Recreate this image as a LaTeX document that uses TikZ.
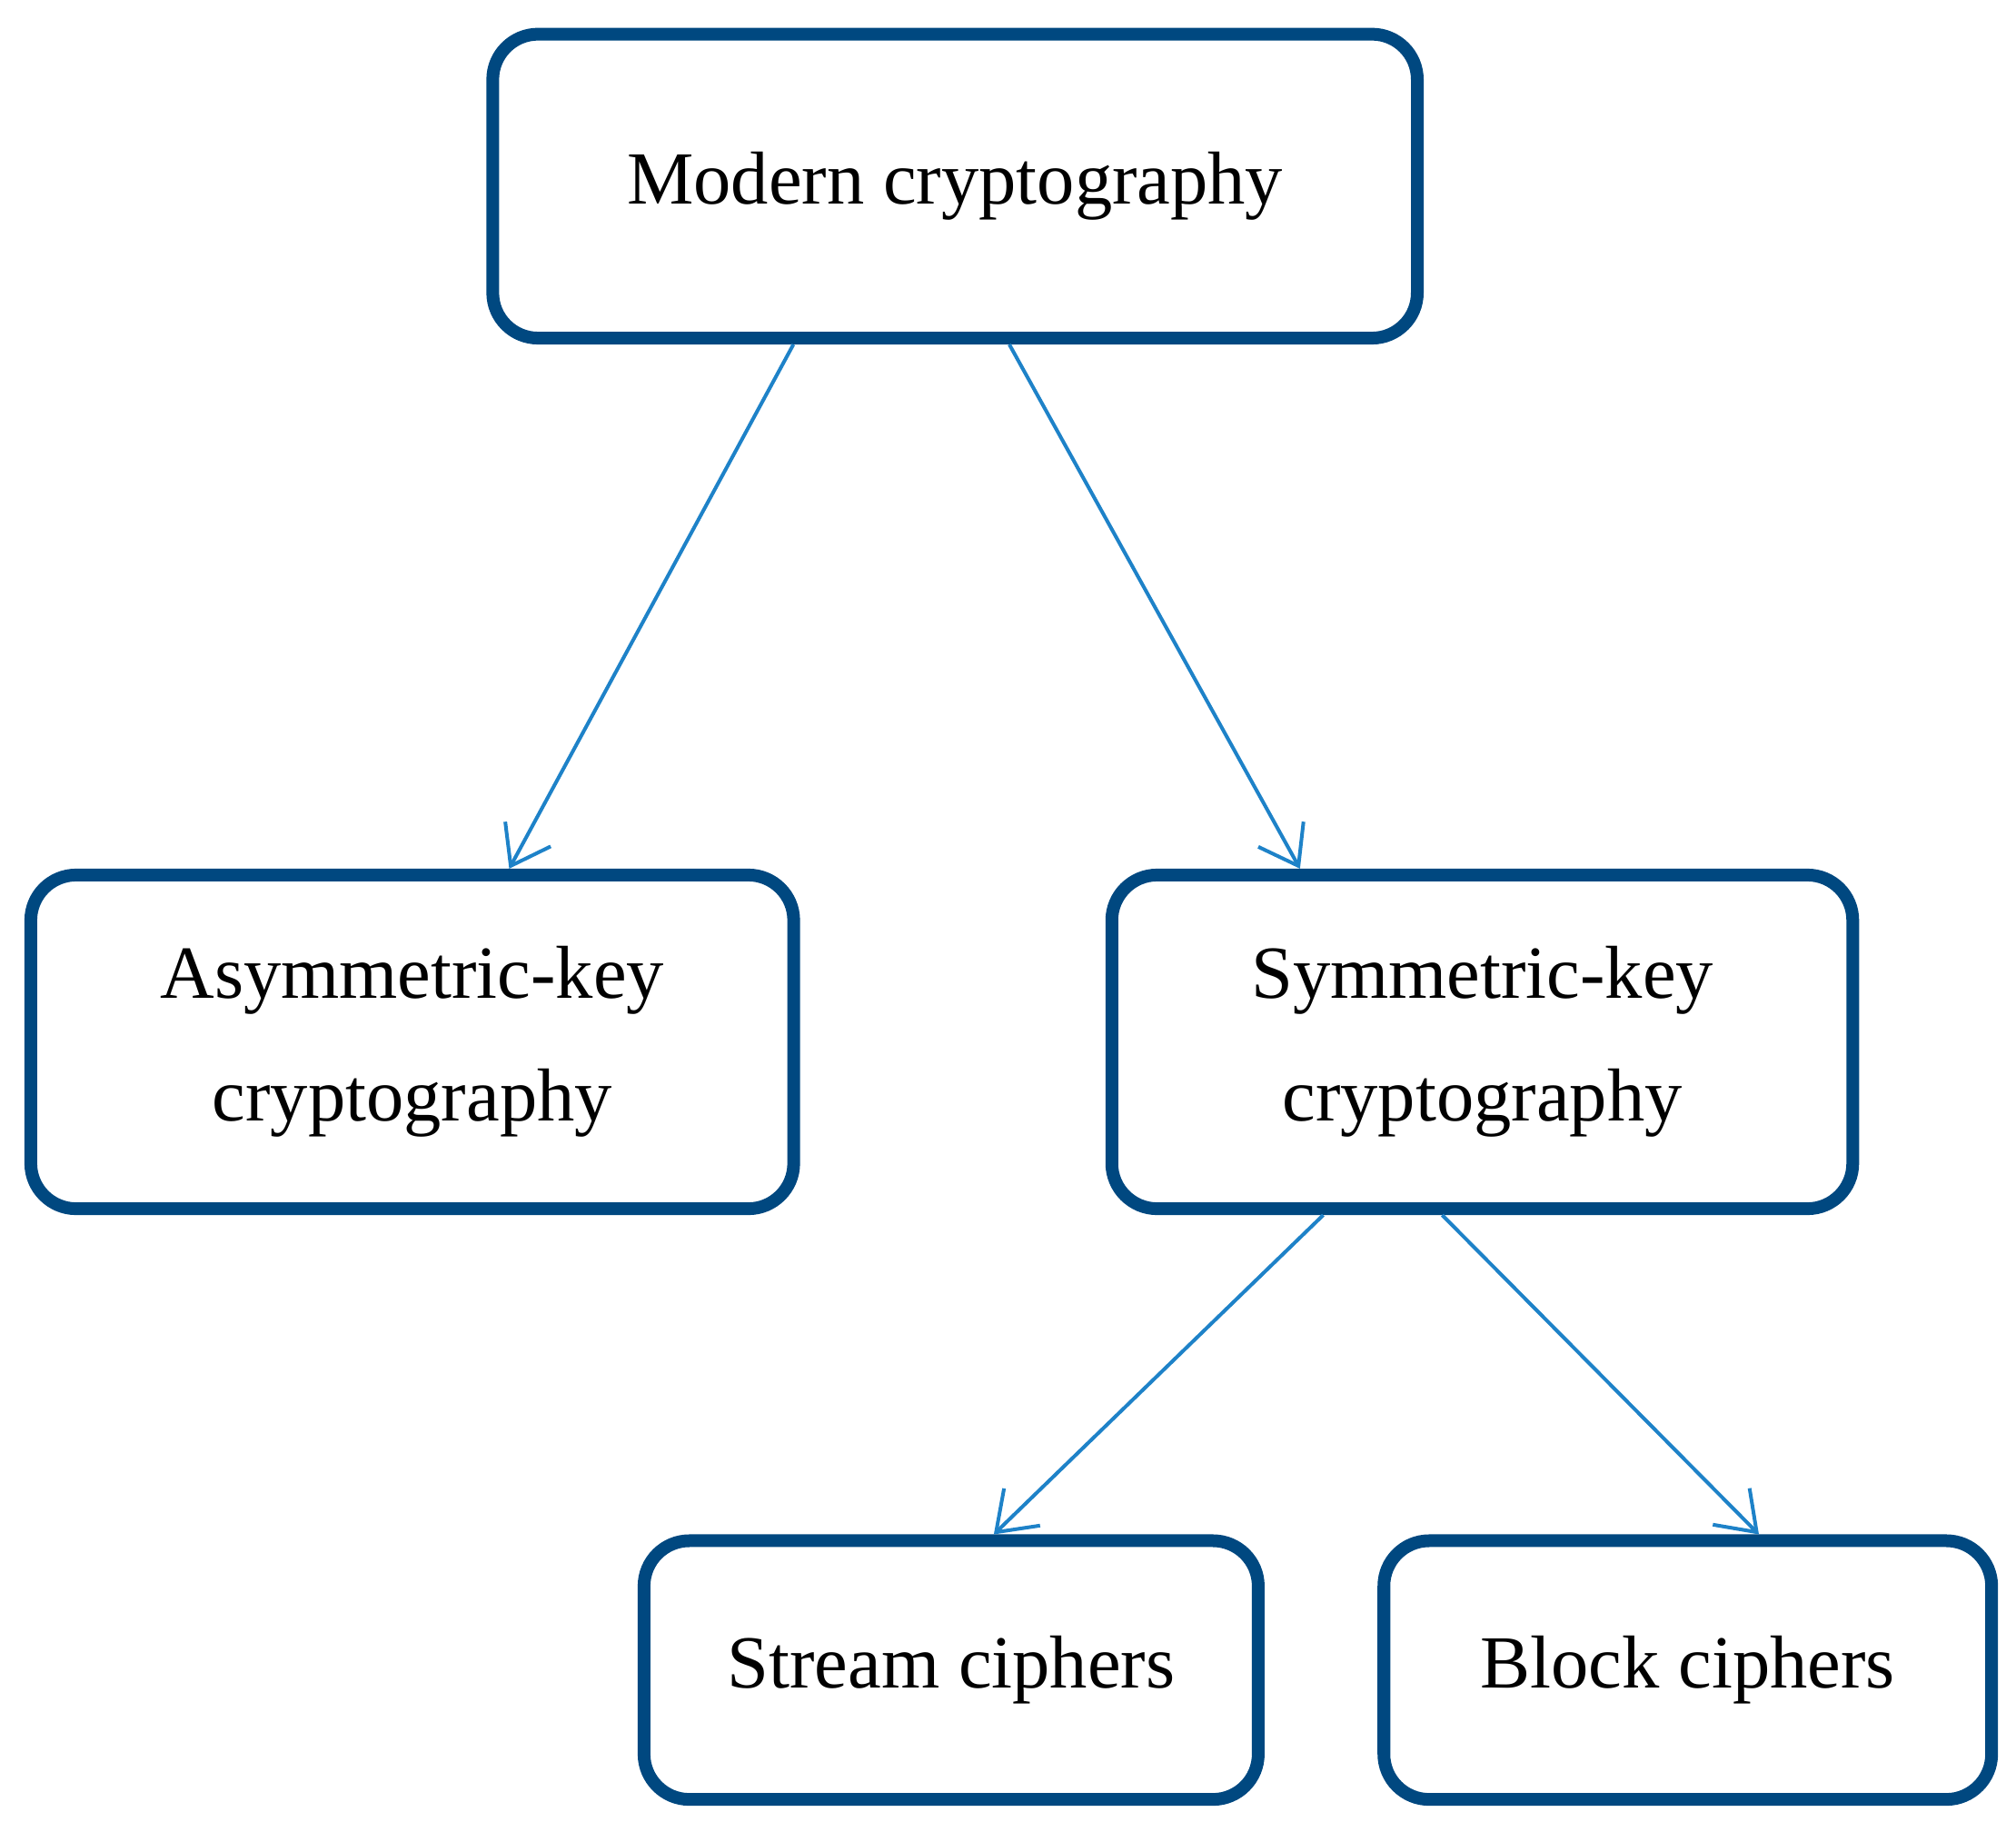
\documentclass[tikz,border=0pt]{standalone}
\usepackage{fontspec}
\setmainfont{Liberation Serif}
\usetikzlibrary{arrows.meta}
\definecolor{boxblue}{RGB}{0,72,128}
\definecolor{arrblue}{RGB}{30,130,200}
\begin{document}
\begin{tikzpicture}[x=0.01cm,y=-0.01cm]
  \tikzset{box/.style = {draw=boxblue,line width=2.8pt,rounded corners=0.35cm,
      align=center,font=\fontsize{16.5}{27}\selectfont,inner sep=0pt}}
  \tikzset{func/.style = {draw=arrblue,line width=0.8pt,-{Straight Barb[length=0.28cm,width=0.4cm]}}}
  \useasboundingbox (0,0) rectangle (1560,1417);

  % boxes
  \node[box,minimum width=7.15cm,minimum height=2.35cm] (top) at (739,144) {\raisebox{-0.06cm}{Modern cryptography}};
  \node[box,minimum width=5.9cm,minimum height=2.58cm] (asym) at (319,806) {Asymmetric-key\\cryptography};
  \node[box,minimum width=5.73cm,minimum height=2.58cm] (sym) at (1147,806) {Symmetric-key\\cryptography};
  \node[box,minimum width=4.75cm,minimum height=2.0cm] (stream) at (736,1292) {Stream ciphers};
  \node[box,minimum width=4.7cm,minimum height=2.0cm] (block) at (1306,1292) {Block ciphers};

  % edges
  \draw[func] ([xshift=-1.25cm]top.south) to ([xshift=0.75cm]asym.north);
  \draw[func] ([xshift=0.42cm]top.south) to ([xshift=-1.41cm]sym.north);
  \draw[func] ([xshift=-1.23cm]sym.south) to ([xshift=0.33cm]stream.north);
  \draw[func] ([xshift=-0.31cm]sym.south) to ([xshift=0.55cm]block.north);
\end{tikzpicture}
\end{document}
